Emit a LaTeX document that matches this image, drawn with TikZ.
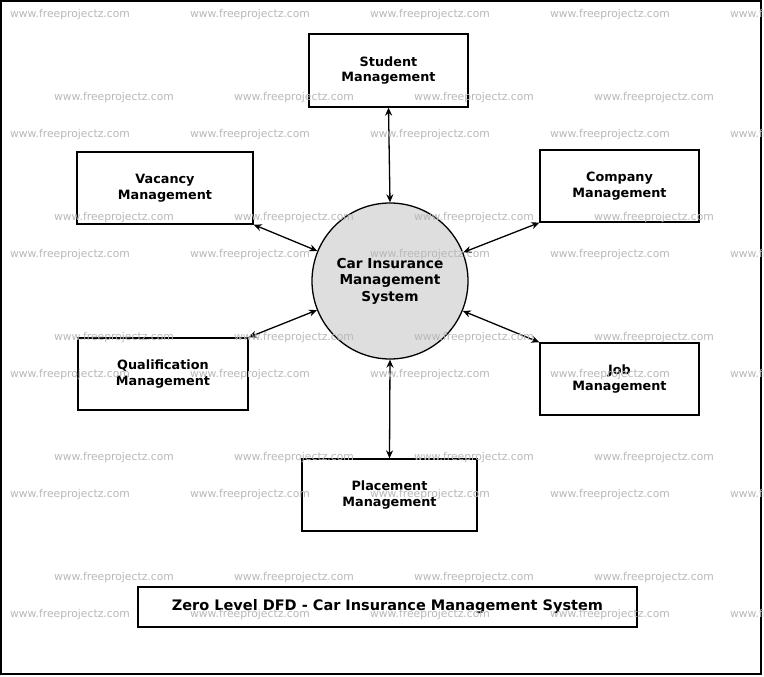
\documentclass[tikz,border=0pt]{standalone}
\usepackage{fontspec}
\setmainfont{DejaVu Sans}
\usetikzlibrary{arrows.meta}
\begin{document}
\begin{tikzpicture}[x=1pt,y=-1pt,
  box/.style={draw,line width=1.3pt,fill=white,align=center,font=\bfseries\fontsize{12.8}{15.5}\selectfont,inner sep=0pt},
  link/.style={line width=1.3pt,{Stealth[length=8pt,width=7pt]}-{Stealth[length=8pt,width=7pt]}},
  wm/.style={text=black!28,font=\fontsize{10.8}{12}\selectfont}]
\useasboundingbox (0,0) rectangle (764,677);
\draw[line width=1.3pt] (1,1) rectangle (761,674);
\node[box,minimum width=159pt,minimum height=73pt] (stu) at (388.5,70.5) {Student\\Management};
\node[box,minimum width=176pt,minimum height=72pt] (vac) at (165,188) {Vacancy\\Management};
\node[box,minimum width=159pt,minimum height=72pt] (com) at (619.5,186) {Company\\Management};
\node[box,minimum width=170pt,minimum height=72pt] (qua) at (163,374) {Qualification\\Management};
\node[box,minimum width=159pt,minimum height=72pt] (job) at (619.5,379) {Job\\Management};
\node[box,minimum width=175pt,minimum height=72pt] (pla) at (389.5,495) {Placement\\Management};
\node[draw,line width=1.3pt,circle,fill=black!13,minimum size=156pt,align=center,inner sep=0pt,
  font=\bfseries\fontsize{13.7}{16.5}\selectfont] (c) at (390,281) {Car Insurance\\Management\\System};
\node[box,minimum width=499pt,minimum height=40pt,font=\bfseries\fontsize{14.5}{16}\selectfont] (title) at (387.5,607) {Zero Level DFD - Car Insurance Management System};
\draw[link] (stu.south) -- (c.north);
\draw[link] (pla.north) -- (c.south);
\draw[link] (vac.south east) -- (c);
\draw[link] (com.south west) -- (c);
\draw[link] (qua.north east) -- (c);
\draw[link] (job.north west) -- (c);
\foreach \y in {15,135,255,375,495,615}
  \foreach \x in {70,250,430,610,790}
    \node[wm] (w) at (\x,\y) {www.freeprojectz.com};
\foreach \y in {98,218,338,458,578}
  \foreach \x in {114,294,474,654}
    \node[wm] (w) at (\x,\y) {www.freeprojectz.com};
\end{tikzpicture}
\end{document}
